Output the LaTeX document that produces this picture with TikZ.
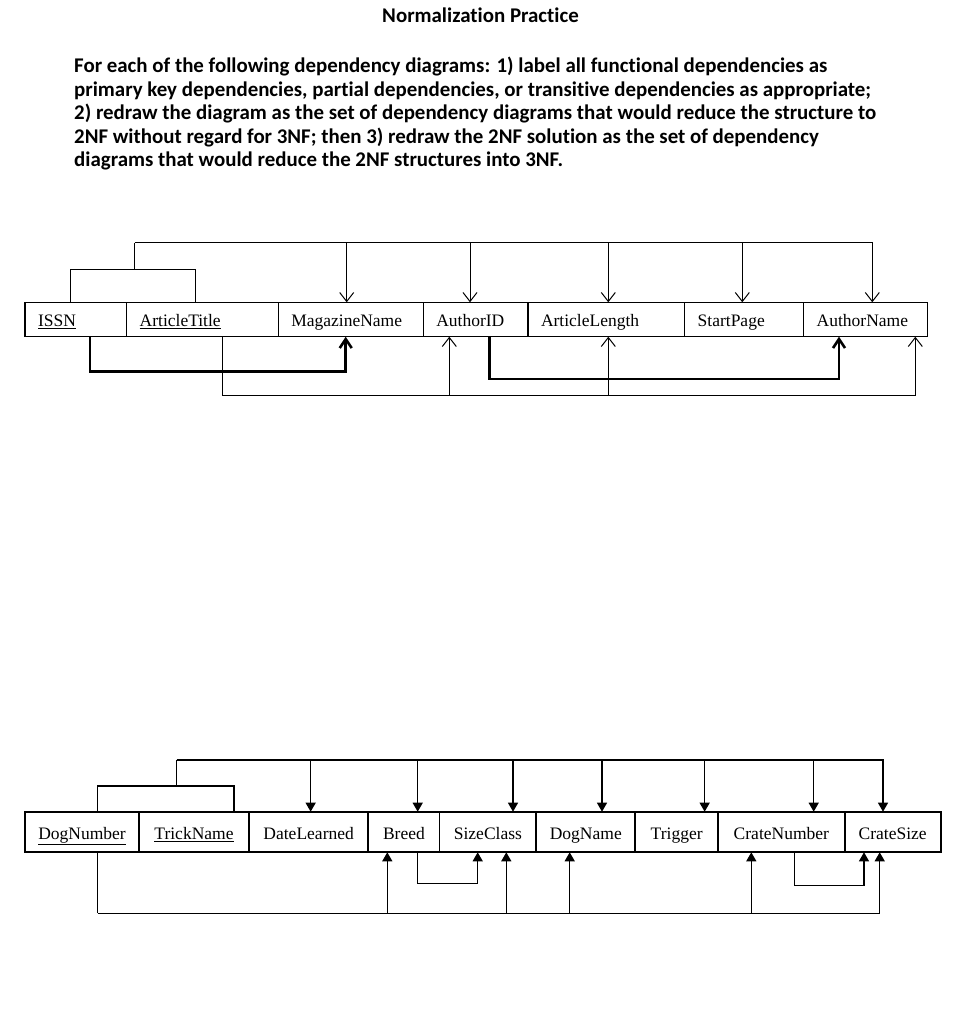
\documentclass[tikz,border=0pt]{standalone}
\usepackage{fontspec}
\setmainfont{Liberation Serif}
\newfontfamily\headfont[Ligatures=NoCommon]{Carlito}
\usetikzlibrary{positioning,arrows.meta}

\begin{document}
\begin{tikzpicture}[x=1pt,y=-1pt]
    % Define styles
    \tikzstyle{attrcell}=[draw,line width=1.2pt,outer sep=0pt,inner xsep=13pt,inner ysep=0pt,minimum height=34.4pt,align=left,font=\fontsize{17.5}{20}\selectfont,text height=14pt,text depth=0pt]
    \tikzstyle{dogcell}=[draw,line width=1.8pt,outer sep=0pt,inner xsep=0pt,inner ysep=0pt,minimum height=40.6pt,align=center,font=\fontsize{17.5}{20}\selectfont,text height=14.5pt,text depth=0pt]
    \tikzstyle{plainedge}=[line width=1pt]
    \tikzstyle{keyedge}=[line width=1pt,-{Straight Barb[length=9pt,width=14pt]}]
    \tikzstyle{pkedge}=[line width=2.6pt,-{Straight Barb[length=9pt,width=12pt]}]
    \tikzstyle{dogline}=[line width=1.3pt]
    \tikzstyle{fdedge}=[line width=1.3pt,-{Triangle[length=9pt,width=10pt]}]
    \useasboundingbox (0,0) rectangle (966,1024);

    % Heading and task text
    \node[anchor=base,font=\headfont\bfseries\fontsize{20.9}{23.5}\selectfont] (title) at (480.5,22.7) {Normalization Practice};
    \node[anchor=north west,inner sep=0pt,align=left,font=\headfont\bfseries\fontsize{20.9}{23.5}\selectfont] (task) at (74,57) {
        For each of the following dependency diagrams: 1) label all functional dependencies as\\
        primary key dependencies, partial dependencies, or transitive dependencies as appropriate;\\
        2) redraw the diagram as the set of dependency diagrams that would reduce the structure to\\
        2NF without regard for 3NF; then 3) redraw the 2NF solution as the set of dependency\\
        diagrams that would reduce the 2NF structures into 3NF.
    };

    %Draw the article diagram
    % Draw the nodes
    \node[attrcell,text width=75.7pt,anchor=west] (1) at (25,319.5) {\underline{ISSN}};
    \node[attrcell,text width=125.6pt,right=0pt of 1] (2) {\underline{ArticleTitle}};
    \node[attrcell,text width=119pt,right=0pt of 2] (3) {MagazineName};
    \node[attrcell,text width=78.7pt,right=0pt of 3] (4) {AuthorID};
    \node[attrcell,text width=130.7pt,right=0pt of 4] (5) {ArticleLength};
    \node[attrcell,text width=93pt,right=0pt of 5] (6) {StartPage};
    \node[attrcell,text width=97.6pt,right=0pt of 6] (7) {AuthorName};

    % Draw the edges
    \draw[plainedge] ([xshift=-5.15pt]1.north) -- ++(0,-33.3) -| ([xshift=-6.8pt]2.north);
    \draw[plainedge] ([xshift=-5.15pt]1.north) ++(64,-33.3) -- ++(0,-26.3) coordinate (top1);
    \draw[keyedge] (top1) -| ([xshift=6.8pt]7.north);
    \draw[keyedge] ([xshift=-4.1pt]3.north |- top1) -- ([xshift=-4.1pt]3.north);
    \draw[keyedge] ([xshift=-5.65pt]4.north |- top1) -- ([xshift=-5.65pt]4.north);
    \draw[keyedge] ([xshift=1.95pt]5.north |- top1) -- ([xshift=1.95pt]5.north);
    \draw[keyedge] ([xshift=-1.9pt]6.north |- top1) -- ([xshift=-1.9pt]6.north);
    \draw[pkedge] ([xshift=14.15pt]1.south) -- ++(0,35) -| ([xshift=-5.1pt]3.south);
    \draw[pkedge] ([xshift=14.05pt]4.south) -- ++(0,42.3) -| ([xshift=-26.5pt]7.south);
    \draw[plainedge] ([xshift=19.8pt]2.south) -- ++(0,58.3) coordinate (bot1);
    \draw[keyedge] (bot1) -| ([xshift=49.8pt]7.south);
    \draw[keyedge] ([xshift=-26.35pt]4.south |- bot1) -- ([xshift=-26.35pt]4.south);
    \draw[keyedge] ([xshift=1.95pt]5.south |- bot1) -- ([xshift=1.95pt]5.south);

    %Draw the dog diagram
    % Draw the nodes
    \node[dogcell,minimum width=114pt,anchor=west] (8) at (25,832) {\underline{DogNumber}};
    \node[dogcell,minimum width=110pt,right=0pt of 8] (9) {\underline{TrickName}};
    \node[dogcell,minimum width=119.3pt,right=0pt of 9] (10) {DateLearned};
    \node[dogcell,minimum width=71.2pt,right=0pt of 10] (11) {Breed};
    \node[dogcell,minimum width=96.8pt,right=0pt of 11] (12) {SizeClass};
    \node[dogcell,minimum width=99pt,right=0pt of 12] (13) {DogName};
    \node[dogcell,minimum width=82.7pt,right=0pt of 13] (14) {Trigger};
    \node[dogcell,minimum width=126.7pt,right=0pt of 14] (15) {CrateNumber};
    \node[dogcell,minimum width=96pt,right=0pt of 15] (16) {CrateSize};

    % Draw the edges
    \draw[dogline] ([xshift=15.7pt]8.north) -- ++(0,-25.7) -| ([xshift=40pt]9.north);
    \draw[dogline] ([xshift=15.7pt]8.north) ++(79,-25.7) -- ++(0,-26) coordinate (top2);
    \draw[fdedge] (top2) -| ([xshift=-9.7pt]16.north);
    \draw[fdedge] ([xshift=2pt]10.north |- top2) -- ([xshift=2pt]10.north);
    \draw[fdedge] ([xshift=13.8pt]11.north |- top2) -- ([xshift=13.8pt]11.north);
    \draw[fdedge] ([xshift=25.1pt]12.north |- top2) -- ([xshift=25.1pt]12.north);
    \draw[fdedge] ([xshift=16.2pt]13.north |- top2) -- ([xshift=16.2pt]13.north);
    \draw[fdedge] ([xshift=28pt]14.north |- top2) -- ([xshift=28pt]14.north);
    \draw[fdedge] ([xshift=32.35pt]15.north |- top2) -- ([xshift=32.35pt]15.north);
    \draw[dogline] ([xshift=15.7pt]8.south) -- ++(0,61) coordinate (bot2);
    \draw[fdedge] (bot2) -| ([xshift=-13pt]16.south);
    \draw[fdedge] ([xshift=-16.6pt]11.south |- bot2) -- ([xshift=-16.6pt]11.south);
    \draw[fdedge] ([xshift=18.4pt]12.south |- bot2) -- ([xshift=18.4pt]12.south);
    \draw[fdedge] ([xshift=-16.1pt]13.south |- bot2) -- ([xshift=-16.1pt]13.south);
    \draw[fdedge] ([xshift=-30.05pt]15.south |- bot2) -- ([xshift=-30.05pt]15.south);
    \draw[fdedge] ([xshift=13.8pt]11.south) -- ++(0,31.5) -| ([xshift=-10.2pt]12.south);
    \draw[fdedge] ([xshift=13.35pt]15.south) -- ++(0,33) -| ([xshift=-28.7pt]16.south);
\end{tikzpicture}
\end{document}
